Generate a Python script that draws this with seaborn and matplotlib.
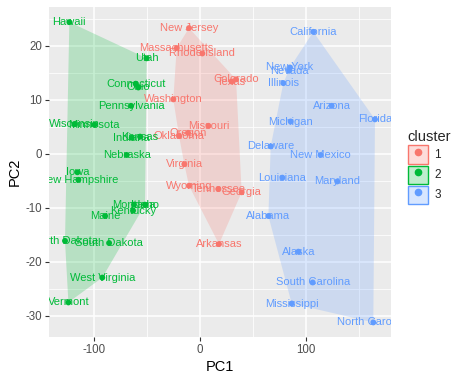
import numpy as np
import pandas as pd
import matplotlib
matplotlib.use("Agg")
import matplotlib.pyplot as plt
import seaborn as sns
from matplotlib.patches import Patch
from matplotlib.lines import Line2D
from matplotlib.colors import to_rgba
from matplotlib.ticker import MultipleLocator

states = ["New Jersey", "Massachusetts", "Rhode Island", "Colorado", "Texas", "Washington",
          "Missouri", "Oregon", "Oklahoma", "Virginia", "Wyoming", "Tennessee", "Georgia", "Arkansas",
          "Hawaii", "Utah", "Connecticut", "Ohio", "Pennsylvania", "Wisconsin", "Minnesota", "Kansas",
          "Indiana", "Nebraska", "Iowa", "New Hampshire", "Montana", "Idaho", "Kentucky", "Maine",
          "North Dakota", "South Dakota", "West Virginia", "Vermont",
          "California", "New York", "Nevada", "Illinois", "Arizona", "Michigan", "Florida", "Delaware",
          "New Mexico", "Louisiana", "Maryland", "Alabama", "Alaska", "South Carolina", "Mississippi",
          "North Carolina"]
pc1 = [-10.4, -22.0, 2.2, 34.0, 29.9, -25.2, 7.9, -11.3, -19.8, -14.8, -10.4, 17.3, 39.3, 17.9,
       -123.3, -50.3, -60.7, -58.2, -65.1, -118.6, -99.7, -56.6, -64.4, -69.2, -115.7, -114.8,
       -62.3, -51.9, -63.2, -89.6, -127.4, -85.8, -92.2, -124.2,
       106.9, 84.9, 84.0, 78.6, 124.2, 85.5, 165.1, 66.7, 113.8, 77.7, 129.5, 64.5, 92.8, 106.3,
       86.5, 163.5]
pc2 = [23.3, 19.6, 18.6, 13.8, 13.4, 10.1, 5.2, 3.9, 3.3, -1.9, -5.9, -6.5, -7.1, -16.7,
       24.4, 17.7, 13.0, 12.3, 8.9, 5.5, 5.4, 3.2, 3.0, -0.2, -3.4, -4.8, -9.4, -9.4, -10.5,
       -11.5, -16.1, -16.5, -22.9, -27.5,
       22.6, 16.0, 15.4, 13.1, 8.9, 6.0, 6.4, 1.4, -0.2, -4.4, -5.1, -11.5, -18.1, -23.8, -27.7,
       -31.2]
cluster = ["1"] * 14 + ["2"] * 20 + ["3"] * 16
cluster_levels = ["1", "2", "3"]
palette = {"1": "#F8766D", "2": "#00BA38", "3": "#619CFF"}

df = pd.DataFrame({"state": states, "PC1": pc1, "PC2": pc2, "cluster": cluster})

sns.set_style("darkgrid")
plt.rcParams["font.family"] = ["Liberation Sans", "DejaVu Sans"]
plt.rcParams["axes.unicode_minus"] = False


def convex_hull(pts):
    pts = sorted(map(tuple, pts))
    def cross(o, a, b):
        return (a[0] - o[0]) * (b[1] - o[1]) - (a[1] - o[1]) * (b[0] - o[0])
    lower, upper = [], []
    for p in pts:
        while len(lower) >= 2 and cross(lower[-2], lower[-1], p) <= 0:
            lower.pop()
        lower.append(p)
    for p in reversed(pts):
        while len(upper) >= 2 and cross(upper[-2], upper[-1], p) <= 0:
            upper.pop()
        upper.append(p)
    return np.array(lower[:-1] + upper[:-1])


fig = plt.figure(figsize=(4.74, 3.79), dpi=100)
ax = fig.add_axes([49 / 474, 1 - 337 / 379, (391 - 49) / 474, (337 - 7) / 379])
ax.set_facecolor("#EBEBEB")

for c in cluster_levels:
    sub = df[df["cluster"] == c]
    h = convex_hull(sub[["PC1", "PC2"]].values)
    ax.fill(h[:, 0], h[:, 1], facecolor=palette[c], alpha=0.22, lw=0, zorder=1)

for _, r in df.iterrows():
    ax.text(r["PC1"], r["PC2"], r["state"], color=palette[r["cluster"]], fontsize=8,
            ha="center", va="center", clip_on=True, zorder=2)

sns.scatterplot(data=df, x="PC1", y="PC2", hue="cluster", palette=palette, s=18,
                linewidth=0, ax=ax, legend=False, zorder=3)

ax.set_xlim(-142.5, 180.2)
ax.set_ylim(-33.9, 27.2)
ax.xaxis.set_major_locator(MultipleLocator(100))
ax.xaxis.set_minor_locator(MultipleLocator(50))
ax.yaxis.set_major_locator(MultipleLocator(10))
ax.yaxis.set_minor_locator(MultipleLocator(5))
ax.set_axisbelow(True)
ax.grid(which="major", color="white", lw=1.1)
ax.grid(which="minor", color="white", lw=0.55)
for s in ax.spines.values():
    s.set_visible(False)
ax.tick_params(which="major", length=3, width=0.8, color="#333333", labelcolor="#4D4D4D",
               labelsize=8.3, pad=2, bottom=True, left=True)
ax.tick_params(which="minor", length=0)
ax.set_xlabel("PC1", fontsize=10.5, color="black", labelpad=3)
ax.set_ylabel("PC2", fontsize=10.5, color="black", labelpad=3)

handles = []
for c in cluster_levels:
    p = Patch(facecolor=to_rgba(palette[c], 0.25), edgecolor=palette[c], lw=1.0)
    m = Line2D([], [], marker="o", color=palette[c], linestyle="", markersize=4.5)
    handles.append((p, m))
leg = fig.legend(handles, cluster_levels, title="cluster", loc="upper left",
                 bbox_to_anchor=(403 / 474, 1 - 125 / 379), frameon=False, fontsize=8.5,
                 title_fontsize=10.5, handlelength=1.75, handleheight=2.0, labelspacing=0.15,
                 handletextpad=0.5, borderaxespad=0)
leg._legend_box.align = "left"

fig.savefig("out.png", dpi=100)
